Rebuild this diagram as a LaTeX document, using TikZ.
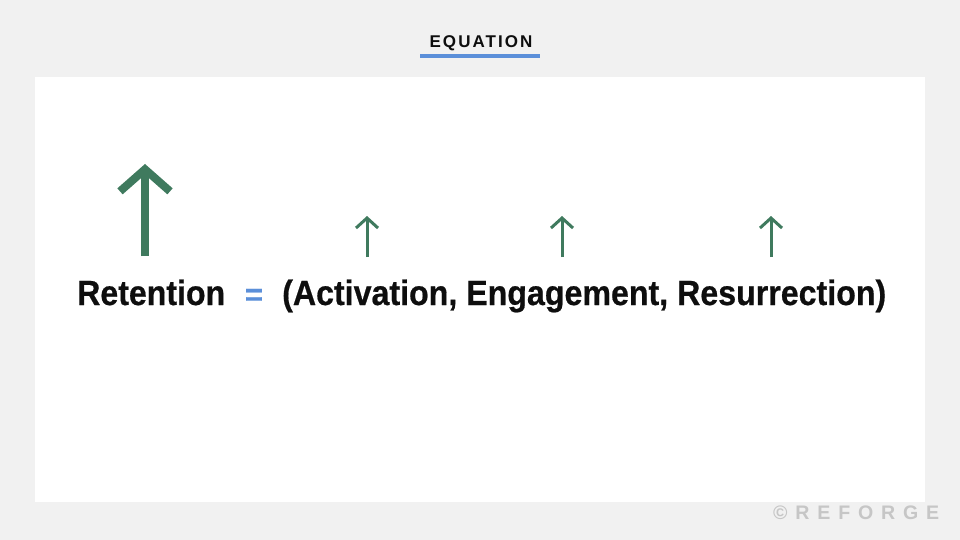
\documentclass[tikz,border=0pt]{standalone}
\usepackage{fontspec}
\setmainfont{Liberation Sans}
\newfontfamily\eqfont[UprightFont={* Bold}, FakeBold=0.6]{Liberation Sans}
\newfontfamily\spacedfont[LetterSpace=12]{Liberation Sans}
\newfontfamily\wmfont[LetterSpace=40]{Liberation Sans}
\usetikzlibrary{arrows.meta}
\definecolor{bg}{HTML}{F1F1F1}
\definecolor{arrowgreen}{HTML}{3F7A5E}
\definecolor{eqblue}{HTML}{5B8FD9}
\definecolor{wmgray}{HTML}{C6C6C6}
\definecolor{txt}{HTML}{0E0E0E}
\tikzset{
  bigarrow/.style={draw=arrowgreen, line width=8pt, -{Straight Barb[length=22pt,width=50pt,line width=8pt]}},
  smallarrow/.style={draw=arrowgreen, line width=3pt, -{Straight Barb[length=10pt,width=22pt,line width=3pt]}},
  eqtext/.style={inner sep=0pt, anchor=base west, text=txt, font=\eqfont\fontsize{32}{36}\selectfont}
}
\begin{document}
\begin{tikzpicture}[x=1pt,y=1pt]
\fill[bg] (0,0) rectangle (960,-540);
\useasboundingbox (0,0) rectangle (960,-540);
\fill[white] (35,-77) rectangle (925,-502);
% title
\node[inner sep=0pt, anchor=base, text=txt] (title) at (481,-48) {\spacedfont\bfseries\fontsize{17}{20}\selectfont EQUATION};
\draw[eqblue, line width=4pt] (420,-56) coordinate (ul1) -- (540,-56) coordinate (ul2);
% equation text
\node[eqtext] (ret) at (77,-305) {\scalebox{1}[1.09]{\resizebox{148pt}{!}{Retention}}};
\node[inner sep=0pt, anchor=base, text=eqblue, font=\eqfont\fontsize{31}{36}\selectfont] (eq) at (254,-305) {=};
\node[eqtext] (rest) at (282,-305) {\scalebox{1}[1.09]{\resizebox{604pt}{!}{(Activation, Engagement, Resurrection)}}};
% arrows
\coordinate (a0s) at (145,-256); \coordinate (a0e) at (145,-164);
\draw[bigarrow] (a0s) -- (a0e);
\coordinate (a1s) at (367,-257); \coordinate (a1e) at (367,-216);
\coordinate (a2s) at (562,-257); \coordinate (a2e) at (562,-216);
\coordinate (a3s) at (771,-257); \coordinate (a3e) at (771,-216);
\draw[smallarrow] (a1s) -- (a1e);
\draw[smallarrow] (a2s) -- (a2e);
\draw[smallarrow] (a3s) -- (a3e);
% watermark
\node[inner sep=0pt, anchor=base west, text=wmgray] (wm) at (773,-519) {\resizebox{166pt}{!}{\wmfont\bfseries\textcopyright REFORGE}};
\end{tikzpicture}
\end{document}
